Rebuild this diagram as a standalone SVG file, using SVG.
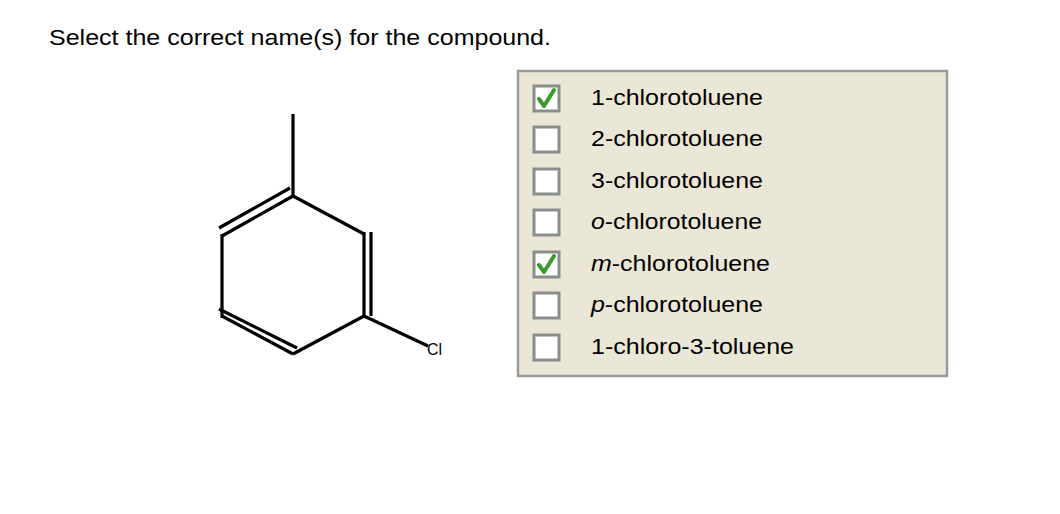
<svg xmlns="http://www.w3.org/2000/svg" width="1060" height="514" viewBox="0 0 1060 514">
<style>
text{font-family:"Liberation Sans",Arial,sans-serif;fill:#000}
.b{stroke:#000;stroke-width:3.2;stroke-linecap:butt;fill:none}
.cb{fill:#fff;stroke:#8a8e8a;stroke-width:3}
.lbl{font-size:21.5px}
.ck{fill:none;stroke:#3a9a2a;stroke-width:4;stroke-linecap:round;stroke-linejoin:round}
</style>
<rect width="1060" height="514" fill="#fff"/>
<text x="49" y="45" font-size="21.5" textLength="502" lengthAdjust="spacingAndGlyphs">Select the correct name(s) for the compound.</text>
<g id="molecule">
<line class="b" x1="293" y1="114" x2="293" y2="196"/>
<line class="b" x1="293" y1="196" x2="222" y2="236"/>
<line class="b" x1="290" y1="188" x2="219" y2="228"/>
<line class="b" x1="293" y1="196" x2="364" y2="234"/>
<line class="b" x1="364" y1="232" x2="364" y2="318"/>
<line class="b" x1="371" y1="232" x2="371" y2="316"/>
<line class="b" x1="222" y1="234" x2="222" y2="318"/>
<line class="b" x1="222" y1="316" x2="293" y2="354"/>
<line class="b" x1="219" y1="309" x2="297" y2="348"/>
<line class="b" x1="293" y1="354" x2="364" y2="316"/>
<line class="b" x1="364" y1="316" x2="428" y2="346"/>
<text x="427" y="355" font-size="16" textLength="15" lengthAdjust="spacingAndGlyphs">Cl</text>
</g>
<g id="options">
<rect x="518" y="71" width="429" height="305" fill="#ebe7d7" stroke="#9a9a9a" stroke-width="2.5"/>
<g id="o1"><rect class="cb" x="534" y="86" width="25" height="25"/><path class="ck" d="M539 99 L544 106 L554 90"/><text class="lbl" x="591" y="105" textLength="172" lengthAdjust="spacingAndGlyphs">1-chlorotoluene</text></g>
<g id="o2"><rect class="cb" x="534" y="127" width="25" height="25"/><text class="lbl" x="591" y="146" textLength="172" lengthAdjust="spacingAndGlyphs">2-chlorotoluene</text></g>
<g id="o3"><rect class="cb" x="534" y="169" width="25" height="25"/><text class="lbl" x="591" y="188" textLength="172" lengthAdjust="spacingAndGlyphs">3-chlorotoluene</text></g>
<g id="o4"><rect class="cb" x="534" y="210" width="25" height="25"/><text class="lbl" x="591" y="229" textLength="171" lengthAdjust="spacingAndGlyphs"><tspan font-style="italic">o</tspan>-chlorotoluene</text></g>
<g id="o5"><rect class="cb" x="534" y="252" width="25" height="25"/><path class="ck" d="M539 265 L544 272 L554 256"/><text class="lbl" x="591" y="271" textLength="179" lengthAdjust="spacingAndGlyphs"><tspan font-style="italic">m</tspan>-chlorotoluene</text></g>
<g id="o6"><rect class="cb" x="534" y="293" width="25" height="25"/><text class="lbl" x="591" y="312" textLength="172" lengthAdjust="spacingAndGlyphs"><tspan font-style="italic">p</tspan>-chlorotoluene</text></g>
<g id="o7"><rect class="cb" x="534" y="335" width="25" height="25"/><text class="lbl" x="591" y="354" textLength="203" lengthAdjust="spacingAndGlyphs">1-chloro-3-toluene</text></g>
</g>
</svg>
